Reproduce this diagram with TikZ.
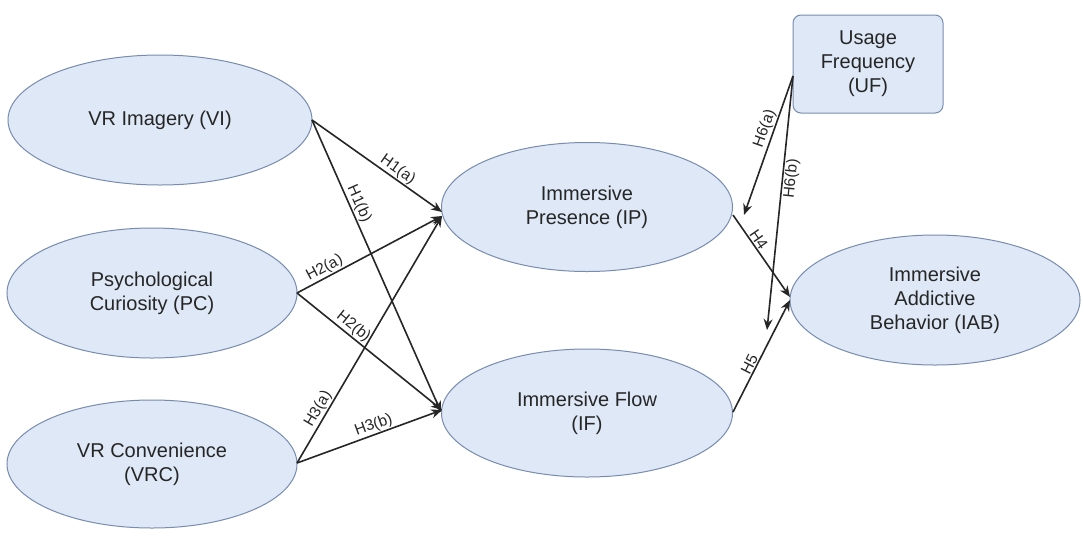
\documentclass[tikz,border=0pt]{standalone}
\usepackage{fontspec}
\setmainfont{Liberation Sans}
\usetikzlibrary{shapes.geometric,arrows.meta}
\definecolor{fillb}{RGB}{222,232,246}
\definecolor{edgeb}{RGB}{120,140,175}
\begin{document}
\begin{tikzpicture}[x=1pt,y=-1pt,
 ell/.style={ellipse,draw=edgeb,fill=fillb,line width=1pt,inner sep=0pt,align=center,font=\fontsize{20}{24}\selectfont,text=black!85},
 arr/.style={-{Stealth[length=11pt,width=9pt]},line width=1.6pt,black!85},
 lab/.style={font=\fontsize{15.5}{17}\selectfont,text=black!85,inner sep=1pt}]
\useasboundingbox[fill=white] (0,0) rectangle (1084,539);
\node[ell,minimum width=304,minimum height=130] (vi) at (160,120) {VR Imagery (VI)};
\node[ell,minimum width=290,minimum height=130] (pc) at (152,293) {Psychological\\Curiosity (PC)};
\node[ell,minimum width=290,minimum height=128] (vrc) at (152,464) {VR Convenience\\(VRC)};
\node[ell,minimum width=291,minimum height=129] (ip) at (587,207) {Immersive\\Presence (IP)};
\node[ell,minimum width=291,minimum height=128] (if) at (587,413) {Immersive Flow\\(IF)};
\node[ell,minimum width=290,minimum height=130] (iab) at (935,300) {Immersive\\Addictive\\Behavior (IAB)};
\node[draw=edgeb,fill=fillb,line width=1pt,rounded corners=8pt,minimum width=150,minimum height=98,align=center,font=\fontsize{20}{24}\selectfont,text=black!85] (uf) at (868,64) {Usage\\Frequency\\(UF)};
\coordinate (h6a) at (744,215);
\coordinate (h6b) at (767,330);
\draw[arr] (312,120) -- (442,212) node[lab,pos=0.62,above,sloped] {H1(a)};
\draw[arr] (312,120) -- (441,412) node[lab,pos=0.3,above,sloped] {H1(b)};
\draw[arr] (297,293) -- (442,216) node[lab,pos=0.22,above,sloped] {H2(a)};
\draw[arr] (297,293) -- (442,410) node[lab,pos=0.35,above,sloped] {H2(b)};
\draw[arr] (297,463) -- (442,216) node[lab,pos=0.2,above,sloped] {H3(a)};
\draw[arr] (297,463) -- (442,410) node[lab,pos=0.55,above,sloped] {H3(b)};
\draw[arr] (733,215) -- (790,297) node[lab,pos=0.35,above,sloped] {H4};
\draw[arr] (733,412) -- (790,300) node[lab,pos=0.4,above,sloped] {H5};
\draw[arr] (793,76) -- (h6a) node[lab,pos=0.4,above,sloped] {H6(a)};
\draw[arr] (793,76) -- (h6b) node[lab,pos=0.4,below,sloped] {H6(b)};
\end{tikzpicture}
\end{document}
